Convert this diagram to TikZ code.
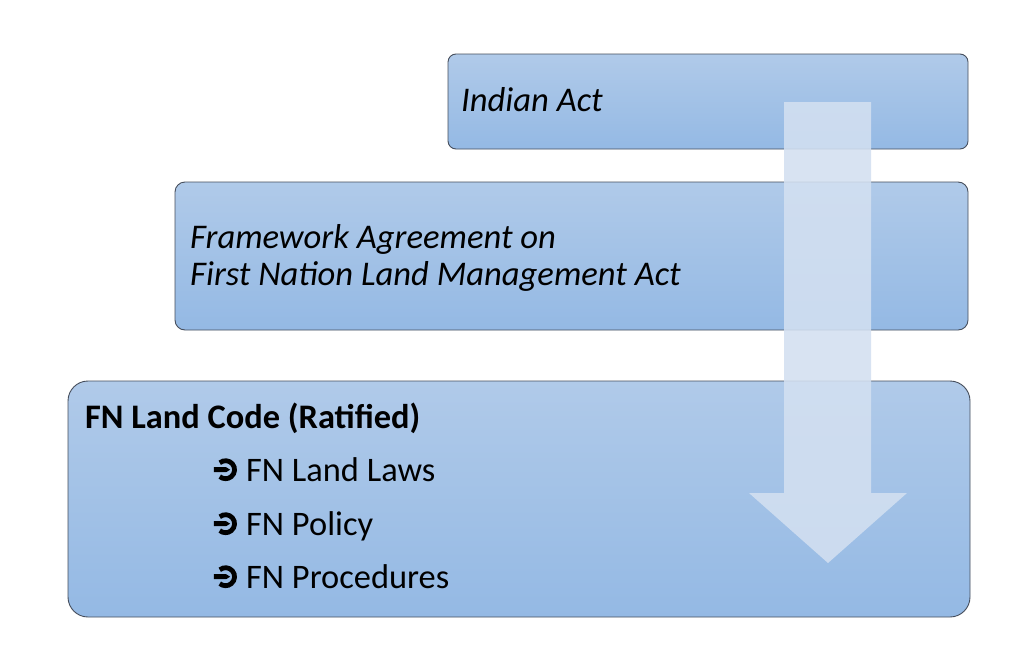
\documentclass[tikz,border=0pt]{standalone}
\usepackage{fontspec}
\setmainfont{Carlito}
\definecolor{boxtop}{RGB}{176,202,233}
\definecolor{boxbot}{RGB}{148,185,228}
\definecolor{boxline}{RGB}{70,78,92}
\definecolor{arrowfill}{RGB}{211,224,241}
\newcommand{\fnbullet}{\tikz[x=1pt,y=1pt,baseline=-10.5pt]{%
  \draw[line width=4.8pt] (130:9.0) arc[start angle=130, end angle=-130, radius=9.0];
  \fill (-11.6,2.5) -- (0.6,2.5) -- (4.6,0) -- (0.6,-2.5) -- (-11.6,-2.5) -- cycle;}}
\begin{document}
\begin{tikzpicture}[x=1pt,y=-1pt,
  boxstyle/.style={draw=boxline, line width=0.9pt, top color=boxtop, bottom color=boxbot,
    rectangle, inner sep=0pt},
  txt/.style={anchor=base west, inner sep=0pt, font=\fontsize{34.4}{40}\selectfont},
  itxt/.style={txt, font=\fontsize{34.6}{40}\selectfont\itshape},
  btxt/.style={txt, font=\fontsize{34.4}{40}\selectfont\bfseries},
  bul/.style={anchor=center, inner sep=0pt}
]
\useasboundingbox (0,0) rectangle (1032,656);
\fill[white] (0,0) rectangle (1032,656);
% boxes
\node[boxstyle, rounded corners=8pt, minimum width=520pt, minimum height=95pt] (b1) at (708,101.5) {};
\node[boxstyle, rounded corners=10pt, minimum width=793pt, minimum height=148pt] (b2) at (571.5,256) {};
\node[boxstyle, rounded corners=20pt, minimum width=902pt, minimum height=236pt] (b3) at (519,499) {};
% arrow
\fill[arrowfill, opacity=0.88] (784,102) -- (871,102) -- (871,493) -- (907,493) -- (828,563) -- (749,493) -- (784,493) -- cycle;
% texts
\node[itxt] (t1) at (461,111) {Indian Act};
\node[itxt] (t2a) at (190,248) {Framework Agreement on};
\node[itxt] (t2b) at (190,285) {First Nation Land Management Act};
\node[btxt] (t3) at (85,428) {FN Land Code (Ratified)};
\node[bul] (u1) at (226,469.5) {\fnbullet};
\node[txt] (i1) at (246,481) {FN Land Laws};
\node[bul] (u2) at (226,523.5) {\fnbullet};
\node[txt] (i2) at (246,535) {FN Policy};
\node[bul] (u3) at (226,576.5) {\fnbullet};
\node[txt] (i3) at (246,588) {FN Procedures};
\end{tikzpicture}
\end{document}
